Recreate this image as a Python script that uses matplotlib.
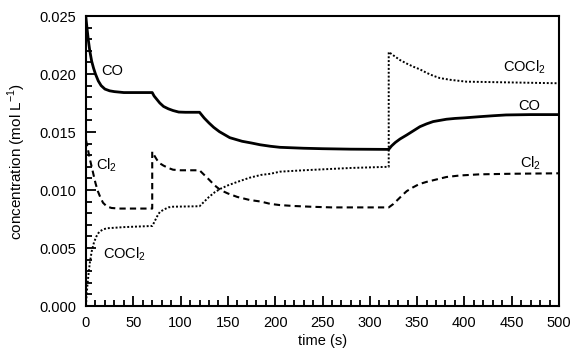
import matplotlib
matplotlib.use("Agg")
import matplotlib.pyplot as plt
from matplotlib.ticker import MultipleLocator

plt.rcParams['font.family'] = ['Liberation Sans', 'DejaVu Sans']
plt.rcParams['mathtext.fontset'] = 'custom'
plt.rcParams['mathtext.rm'] = 'Liberation Sans'

# values (time in s, concentration in mol/L)
co_t = [0, 1, 2.5, 4, 6, 8, 10, 13, 16, 20, 25, 30, 40, 70, 72, 75, 78, 82, 87, 92, 98, 105,
        120, 125, 130, 135, 141, 152, 165, 175, 184, 195, 205, 230, 250, 280, 320, 323, 327,
        332, 339, 346, 353, 360, 367, 374, 381, 390, 400, 416, 430, 444, 470, 500]
co_c = [0.0248, 0.0240, 0.0229, 0.0220, 0.0211, 0.0205, 0.0200, 0.0194, 0.0190, 0.0187,
        0.01855, 0.01848, 0.0184, 0.0184, 0.0181, 0.0178, 0.0175, 0.0172, 0.0170, 0.01685,
        0.01672, 0.0167, 0.0167, 0.0162, 0.01578, 0.0154, 0.01503, 0.01451, 0.0142, 0.01405,
        0.0139, 0.01377, 0.01368, 0.0136, 0.01356, 0.01352, 0.0135, 0.0138, 0.0141, 0.0144,
        0.01474, 0.0151, 0.01546, 0.0157, 0.0159, 0.0160, 0.0161, 0.01617, 0.01622, 0.01632,
        0.0164, 0.01647, 0.0165, 0.0165]

cl2_t = [0, 2, 4, 6, 8, 10, 12.5, 15, 18, 22, 27, 35, 70, 70, 72, 75, 78, 82, 87, 92, 100,
         120, 125, 130, 136, 142, 150, 160, 173, 185, 195, 205, 220, 240, 260, 320, 325, 330,
         335, 339, 345, 352, 360, 370, 381, 395, 416, 450, 500]
cl2_c = [0.0143, 0.0135, 0.0127, 0.0120, 0.0113, 0.0106, 0.0099, 0.0094, 0.0089, 0.00858,
         0.00845, 0.0084, 0.0084, 0.0133, 0.0130, 0.0126, 0.0123, 0.0121, 0.0119, 0.01175,
         0.0117, 0.0117, 0.0113, 0.0109, 0.0104, 0.0100, 0.0097, 0.0094, 0.00914, 0.0090,
         0.0088, 0.0087, 0.00862, 0.00855, 0.0085, 0.0085, 0.0088, 0.0092, 0.0096, 0.0099,
         0.0102, 0.0105, 0.0107, 0.0109, 0.01112, 0.01125, 0.01135, 0.0114, 0.01144]

cocl2_t = [0, 0.5, 1.5, 2.5, 4, 6, 8.5, 11, 14, 18, 22, 40, 70, 72, 75, 78, 82, 87, 92, 120,
           125, 130, 136, 142, 150, 160, 173, 185, 195, 205, 230, 250, 280, 320, 320, 325,
           332, 339, 346, 353, 360, 367, 374, 385, 402, 430, 500]
cocl2_c = [0.0, 0.0008, 0.0018, 0.0026, 0.0037, 0.0047, 0.0055, 0.0060, 0.0064, 0.0066,
           0.0067, 0.0068, 0.0069, 0.0072, 0.0077, 0.0081, 0.0083, 0.0085, 0.00856, 0.0086,
           0.0090, 0.0094, 0.0098, 0.0101, 0.0104, 0.0107, 0.01106, 0.0113, 0.0114, 0.01158,
           0.0117, 0.01178, 0.0119, 0.0120, 0.0219, 0.0216, 0.0212, 0.0209, 0.02063, 0.0204,
           0.0201, 0.01985, 0.01965, 0.0195, 0.01934, 0.0193, 0.0192]

fig = plt.figure(figsize=(5.77, 3.56), dpi=100)
ax = fig.add_axes([86 / 577, 50 / 356, 473 / 577, 290 / 356])

ax.plot(co_t, co_c, color='black', lw=2.0, ls='-')
ax.plot(cl2_t, cl2_c, color='black', lw=1.5, ls=(0, (3, 2)))
ax.plot(cocl2_t, cocl2_c, color='black', lw=1.4, ls=(0, (1, 1)))

fs = 10.5
ax.text(16.5, 0.0203, 'CO', fontsize=fs, va='center')
ax.text(11, 0.0121, 'Cl$_2$', fontsize=fs, va='center')
ax.text(18, 0.0045, 'COCl$_2$', fontsize=fs, va='center')
ax.text(441, 0.0206, 'COCl$_2$', fontsize=fs, va='center')
ax.text(457, 0.0172, 'CO', fontsize=fs, va='center')
ax.text(459, 0.0123, 'Cl$_2$', fontsize=fs, va='center')

ax.set_xlim(0, 500)
ax.set_ylim(0, 0.025)
ax.xaxis.set_major_locator(MultipleLocator(50))
ax.xaxis.set_minor_locator(MultipleLocator(10))
ax.yaxis.set_major_locator(MultipleLocator(0.005))
ax.yaxis.set_minor_locator(MultipleLocator(0.001))
ax.yaxis.set_major_formatter(plt.FormatStrFormatter('%.3f'))
ax.tick_params(which='both', direction='in', top=False, right=False, labelsize=fs, width=1.3)
ax.tick_params(which='major', length=7, pad=7)
ax.tick_params(which='minor', length=4)
for sp in ax.spines.values():
    sp.set_linewidth(1.5)

ax.set_xlabel('time (s)', fontsize=fs, labelpad=3)
ax.set_ylabel('concentration (mol L$^{-1}$)', fontsize=11, labelpad=8)

fig.savefig('out.png', dpi=100)
